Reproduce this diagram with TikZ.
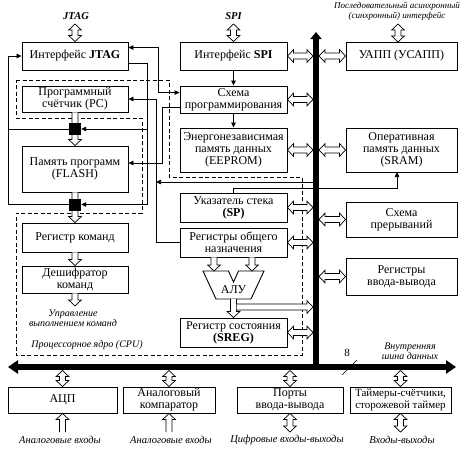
\documentclass[tikz,border=0pt]{standalone}
\usepackage{fontspec}
\setmainfont{Liberation Serif}
\usetikzlibrary{calc,arrows.meta}
\newcommand\baSW{3pt}
\newcommand\baHW{6.3pt}
\newcommand\baHL{6pt}
% double-headed hollow block arrow
\newcommand\blockarrow[2]{%
  \coordinate (ba-a) at (#1); \coordinate (ba-b) at (#2);
  \coordinate (ba-pa) at ($(ba-a)!\baHL!(ba-b)$);
  \coordinate (ba-pb) at ($(ba-b)!\baHL!(ba-a)$);
  \draw[barrow] (ba-a) -- ($(ba-pa)!\baHW!90:(ba-b)$) -- ($(ba-pa)!\baSW!90:(ba-b)$)
    -- ($(ba-pb)!\baSW!-90:(ba-a)$) -- ($(ba-pb)!\baHW!-90:(ba-a)$) -- (ba-b)
    -- ($(ba-pb)!\baHW!90:(ba-a)$) -- ($(ba-pb)!\baSW!90:(ba-a)$)
    -- ($(ba-pa)!\baSW!-90:(ba-b)$) -- ($(ba-pa)!\baHW!-90:(ba-b)$) -- cycle;}
% single-headed hollow block arrow (head at #2, open tail)
\newcommand\blockarrowone[2]{%
  \coordinate (ba-a) at (#1); \coordinate (ba-b) at (#2);
  \coordinate (ba-pb) at ($(ba-b)!\baHL!(ba-a)$);
  \draw[barrow] ($(ba-a)!\baSW!90:(ba-b)$) -- ($(ba-pb)!\baSW!-90:(ba-a)$)
    -- ($(ba-pb)!\baHW!-90:(ba-a)$) -- (ba-b) -- ($(ba-pb)!\baHW!90:(ba-a)$)
    -- ($(ba-pb)!\baSW!90:(ba-a)$) -- ($(ba-a)!\baSW!-90:(ba-b)$);}
\begin{document}
\begin{tikzpicture}[x=1pt,y=-1pt,
  box/.style={draw, line width=0.9pt, align=center, inner sep=0pt,
    font=\fontsize{12}{12}\selectfont},
  lbl/.style={align=center, inner sep=0pt, font=\fontsize{10}{10}\selectfont\itshape},
  barrow/.style={draw, fill=white, line width=0.7pt, line join=miter},
  conn/.style={draw, line width=0.7pt},
  tip/.tip={Triangle[length=5pt,width=4.5pt]},
  bus/.style={line width=6pt},
  cpu/.style={draw, line width=0.8pt, dash pattern=on 4pt off 2.5pt},
  sq/.style={fill=black, minimum size=12pt, inner sep=0pt}]
\fill[white] (0,0) rectangle (474,450);
\useasboundingbox (0,0) rectangle (474,450);

% CPU outline
\draw[cpu] (16,80) -- (169,80) -- (169,177) -- (302,177) -- (302,355) -- (16,355)
  -- (16,213) -- (142,213) -- (142,118) -- (16,118) -- cycle;

% buses
\coordinate (busL) at (8,367);
\coordinate (busR) at (456,367);
\coordinate (busB) at (316,370);
\coordinate (busT) at (316,32);
\draw[bus, {Triangle[length=10pt,width=13pt]}-{Triangle[length=10pt,width=13pt]}] (busL) -- (busR);
\draw[bus, -{Triangle[length=7pt,width=11pt]}] (busB) -- (busT);
\coordinate (bl) at (313,0);
\coordinate (br) at (319,0);
\coordinate (bb) at (0,370.5);

% left column
\node[box, minimum width=106pt, minimum height=28pt] (jtag) at (75,56) {Интерфейс \textbf{JTAG}};
\node[box, minimum width=106pt, minimum height=26pt] (pc) at (75,99) {Программный\\счётчик (PC)};
\node[box, minimum width=106pt, minimum height=46pt] (flash) at (75,169) {Память программ\\(FLASH)};
\node[box, minimum width=106pt, minimum height=29pt] (ir) at (75,237.5) {Регистр команд};
\node[box, minimum width=106pt, minimum height=27pt] (dec) at (75,279.5) {Дешифратор\\команд};

% middle column
\node[box, minimum width=107pt, minimum height=28pt] (spi) at (233.5,56) {Интерфейс \textbf{SPI}};
\node[box, minimum width=107pt, minimum height=27pt] (prog) at (233.5,99.5) {Схема\\программирования};
\node[box, minimum width=107pt, minimum height=44pt] (eeprom) at (233.5,150) {Энергонезависимая\\память данных\\(EEPROM)};
\node[box, minimum width=107pt, minimum height=29pt] (sp) at (233.5,207.5) {Указатель стека\\\textbf{(SP)}};
\node[box, minimum width=107pt, minimum height=29pt] (gpr) at (233.5,242.5) {Регистры общего\\назначения};
\node[box, minimum width=107pt, minimum height=29pt] (sreg) at (233.5,332.5) {Регистр состояния\\\textbf{(SREG)}};

% ALU
\coordinate (alu-in1) at (214,271);
\coordinate (alu-in2) at (252,271);
\coordinate (alu-out) at (233.5,299);
\draw[line width=0.9pt, line join=miter] (203,271) -- (228.5,271) -- (233.5,282) -- (238.5,271)
  -- (264,271) -- (251,299) -- (216,299) -- cycle;
\node[font=\fontsize{12}{12}\selectfont, inner sep=0pt] (alulbl) at (233.5,290) {АЛУ};

% right column
\node[box, minimum width=111pt, minimum height=28pt] (uart) at (401.5,56) {УАПП (УСАПП)};
\node[box, minimum width=111pt, minimum height=44pt] (sram) at (401.5,150) {Оперативная\\память данных\\(SRAM)};
\node[box, minimum width=111pt, minimum height=35pt] (irq) at (401.5,219.5) {Схема\\прерываний};
\node[box, minimum width=111pt, minimum height=37pt] (io) at (401.5,276.5) {Регистры\\ввода-вывода};

% bottom row
\node[box, minimum width=109pt, minimum height=26pt] (adc) at (62.5,400) {АЦП};
\node[box, minimum width=92pt, minimum height=26pt] (comp) at (169,400) {Аналоговый\\компаратор};
\node[box, minimum width=106pt, minimum height=26pt] (ports) at (290,400) {Порты\\ввода-вывода};
\node[box, minimum width=101pt, minimum height=26pt, font=\fontsize{11}{11.5}\selectfont] (timers) at (400.5,400) {Таймеры-счётчики,\\сторожевой таймер};

% labels
\node[font=\fontsize{10.5}{10.5}\selectfont\bfseries\itshape, inner sep=0pt] (jtaglbl) at (76,16) {JTAG};
\node[font=\fontsize{10.5}{10.5}\selectfont\bfseries\itshape, inner sep=0pt] (spilbl) at (233.5,16) {SPI};
\node[lbl, font=\fontsize{9}{9.5}\selectfont\itshape] (uartlbl) at (397,11.5) {Последовательный асинхронный\\(синхронный) интерфейс};
\node[lbl] (ctllbl) at (73,318) {Управление\\выполнением команд};
\node[lbl] (cpulbl) at (87,345) {Процессорное ядро (CPU)};
\node[lbl] (buslbl) at (410,351) {Внутренняя\\шина данных};
\node[font=\fontsize{11}{11}\selectfont, inner sep=0pt] (eightlbl) at (347,353) {8};
\coordinate (sl1) at (342,375);
\coordinate (sl2) at (357,360);
\draw[line width=0.6pt] (sl1) -- (sl2);
\node[lbl, font=\fontsize{10.5}{10.5}\selectfont\itshape] (in1) at (60,440) {Аналоговые входы};
\node[lbl, font=\fontsize{10.5}{10.5}\selectfont\itshape] (in2) at (171,440) {Аналоговые входы};
\node[lbl, font=\fontsize{10.5}{10.5}\selectfont\itshape] (in3) at (287,440) {Цифровые входы-выходы};
\node[lbl, font=\fontsize{10.5}{10.5}\selectfont\itshape] (in4) at (402,440) {Входы-выходы};

% block arrows
\coordinate (jtagtop) at (75,24);
\coordinate (spitop) at (233.5,24);
\coordinate (uarttop) at (398,24);
\blockarrow{jtagtop}{jtag.north}
\blockarrow{spitop}{spi.north}
\coordinate (uartin) at (398,42);
\blockarrow{uarttop}{uartin}
\blockarrowone{pc.south}{flash.north}
\blockarrowone{flash.south}{ir.north}
\blockarrowone{ir.south}{dec.north}
\coordinate (ctl) at (75,306);
\blockarrowone{dec.south}{ctl}
\foreach \b in {spi,prog,eeprom,sp,gpr,sreg} {\blockarrow{\b.east}{\b.east -| bl}}
\foreach \b in {uart,sram,irq,io} {\blockarrow{\b.west -| br}{\b.west}}
\blockarrowone{gpr.south -| alu-in1}{alu-in1}
\blockarrowone{gpr.south -| alu-in2}{alu-in2}
\blockarrowone{alu-out}{sreg.north}
\coordinate (alubr) at (236.5,307);
\blockarrowone{alubr}{alubr -| bl}
\foreach \b in {adc,comp,ports,timers} {\blockarrow{\b.north |- bb}{\b.north}}
\coordinate (in1t) at (62.5,432);
\coordinate (in2t) at (169,432);
\coordinate (in3t) at (290,432);
\coordinate (in4t) at (400.5,432);
\blockarrowone{in1t}{adc.south}
\blockarrowone{in2t}{comp.south}
\blockarrow{in3t}{ports.south}
\blockarrow{in4t}{timers.south}

% black squares
\node[sq] (sq1) at (75,129) {};
\node[sq] (sq2) at (75,204.5) {};

% thin connectors
\coordinate (lx) at (8,0);
\draw[conn,-{tip}] (sq2.west) -- (sq2.west -| lx) -- (jtag.west -| lx) -- (jtag.west);
\draw[conn] (sq1.west) -- (sq1.west -| lx);
\coordinate (j1) at ($(jtag.north east)+(0,6)$);
\coordinate (p1) at ($(prog.north west)+(0,7)$);
\coordinate (x158) at (158,0);
\draw[conn,{tip}-{tip}] (j1) -- (j1 -| x158) -- (p1 -| x158) -- (p1);
\coordinate (j2) at ($(jtag.south east)+(0,-7)$);
\coordinate (x147) at (147,0);
\draw[conn,-{tip}] (j2) -- (j2 -| x147) -- (sq2.east -| x147) -- (sq2.east);
\draw[conn,-{tip}] (sq1.east -| x147) -- (sq1.east);
\coordinate (x156) at (156,0);
\draw[conn,-{tip}] (gpr.west) -- (gpr.west -| x156) -- (pc.east -| x156) -- (pc.east);
\coordinate (b182) at (313,182);
\draw[conn,-{tip}] (b182) -- (b182 -| x156);
\coordinate (s188) at (233.5,188);
\coordinate (sramin) at (397,172);
\draw[conn,-{tip}] (sp.north) -- (s188) -- (s188 -| sramin) -- (sramin);
\coordinate (p2) at ($(prog.south west)+(0,-6)$);
\coordinate (fl) at ($(flash.east)+(0,-6)$);
\coordinate (x162) at (162,0);
\draw[conn,-{tip}] (p2) -- (p2 -| x162) -- (fl -| x162) -- (fl);
\draw[conn,-{tip}] (spi.south) -- (prog.north);
\draw[conn,-{tip}] (prog.south) -- (eeprom.north);
\end{tikzpicture}
\end{document}
